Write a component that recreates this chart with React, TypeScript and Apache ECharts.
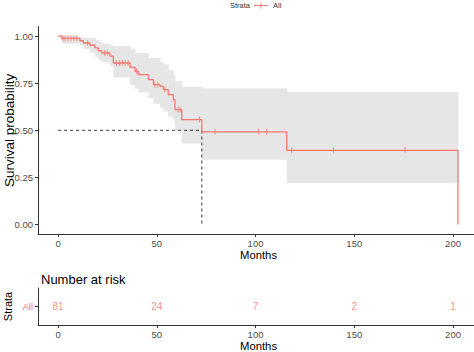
import React, { useEffect, useRef } from "react";
import * as echarts from "echarts";

// Kaplan–Meier step data (months, survival)
const stepTimes = [0, 1.9, 11.1, 12.8, 16.2, 18.7, 20.4, 22.1, 26.3, 28, 36.5, 39, 40.7, 45.7, 48.3, 51.6, 53.3, 55.8, 58.4, 59.2, 62.6, 72.8, 115.8, 202.5];
const survival = [1, 0.988, 0.975, 0.963, 0.951, 0.937, 0.922, 0.91, 0.893, 0.857, 0.834, 0.813, 0.795, 0.769, 0.742, 0.734, 0.716, 0.689, 0.663, 0.61, 0.557, 0.492, 0.394, 0];
const upperCI = [1, 1, 0.99, 0.99, 0.99, 0.98, 0.97, 0.96, 0.95, 0.946, 0.93, 0.91, 0.91, 0.884, 0.884, 0.86, 0.85, 0.82, 0.79, 0.76, 0.73, 0.723, 0.705];
const lowerCI = [1, 0.96, 0.95, 0.93, 0.91, 0.89, 0.87, 0.86, 0.84, 0.78, 0.74, 0.72, 0.7, 0.67, 0.64, 0.62, 0.6, 0.57, 0.55, 0.5, 0.43, 0.344, 0.22];
const censorTimes = [2.5, 3.5, 5, 6.5, 8, 9.5, 15, 23.5, 25, 29.5, 31, 32.5, 34, 35.5, 39.8, 49, 50.5, 54, 60.8, 61.8, 71.6, 79.5, 101.4, 105.6, 118.3, 139.4, 175.7];
const medianTime = 72.8;
const medianLevel = 0.5;

const xTicks = [0, 50, 100, 150, 200];
const yTicks = [0, 0.25, 0.5, 0.75, 1];
const strata = ["All"];
const riskTimes = [0, 50, 100, 150, 200];
const riskCounts = [81, 24, 7, 2, 1];

const RED = "#F8766D";
const BAND = "#e6e6e6";
const FONT = "Liberation Sans, Arial, sans-serif";
const AXIS = "#333333";
const LABEL = "#4d4d4d";

function stepValue(t: number): number {
  let v = survival[0];
  for (let i = 0; i < stepTimes.length; i++) {
    if (stepTimes[i] <= t) v = survival[i];
  }
  return v;
}

export default function App() {
  const ref = useRef<HTMLDivElement>(null);
  useEffect(() => {
    const chart = echarts.init(ref.current!, null, { renderer: "svg" });
    const bandData = upperCI.map((u, i) => [stepTimes[i], stepTimes[i + 1], lowerCI[i], u]);
    const xMin = -10.15;
    const xMax = 213.15;
    const commonX = (gridIndex: number) => ({
      type: "value",
      gridIndex,
      min: xMin,
      max: xMax,
      splitLine: { show: false },
      axisLine: { show: true, onZero: false, lineStyle: { color: AXIS, width: 1 } },
      axisTick: { show: true, length: 3, customValues: xTicks, lineStyle: { color: AXIS } },
      axisLabel: {
        customValues: xTicks,
        fontSize: 9.5,
        color: LABEL,
        margin: 4,
        fontFamily: FONT,
      },
      name: "Months",
      nameLocation: "middle",
      nameGap: 15,
      nameMoveOverlap: false,
      nameTextStyle: { fontSize: 11.3, color: "#000", fontFamily: FONT },
    });
    const option: any = {
      animation: false,
      textStyle: { fontFamily: FONT },
      title: {
        text: "Number at risk",
        left: 36,
        top: 268,
        textStyle: { fontSize: 13, fontWeight: "normal", color: "#000", fontFamily: FONT },
      },
      graphic: [
        { type: "text", x: 230, y: 5.5, style: { text: "Strata", fontSize: 7.5, fill: "#333", verticalAlign: "middle", fontFamily: FONT } },
        { type: "line", shape: { x1: 254, y1: 5.5, x2: 268, y2: 5.5 }, style: { stroke: RED, lineWidth: 1 } },
        { type: "line", shape: { x1: 261, y1: 2.5, x2: 261, y2: 8.5 }, style: { stroke: RED, lineWidth: 1 } },
        { type: "text", x: 273, y: 5.5, style: { text: "All", fontSize: 7.5, fill: "#333", verticalAlign: "middle", fontFamily: FONT } },
      ],
      grid: [
        { left: 38, top: 26.6, width: 441, height: 207.4, containLabel: false, outerBoundsMode: "none" },
        { left: 38, top: 288, width: 441, height: 37, containLabel: false, outerBoundsMode: "none" },
      ],
      xAxis: [commonX(0), commonX(1)],
      yAxis: [
        {
          type: "value",
          gridIndex: 0,
          min: -0.05,
          max: 1.05,
          splitLine: { show: false },
          axisLine: { show: true, onZero: false, lineStyle: { color: AXIS, width: 1 } },
          axisTick: { show: true, length: 3, customValues: yTicks, lineStyle: { color: AXIS } },
          axisLabel: {
            customValues: yTicks,
            formatter: (v: number) => v.toFixed(2),
            fontSize: 9.5,
            color: LABEL,
            margin: 5,
            fontFamily: FONT,
          },
          name: "Survival probability",
          nameLocation: "middle",
          nameGap: 29,
          nameMoveOverlap: false,
          nameTextStyle: { fontSize: 13.5, color: "#000", fontFamily: FONT, verticalAlign: "middle", lineHeight: 13 },
        },
        {
          type: "category",
          gridIndex: 1,
          data: strata,
          inverse: true,
          axisLine: { show: true, onZero: false, lineStyle: { color: AXIS, width: 1 } },
          axisTick: { show: true, length: 3, alignWithLabel: true, lineStyle: { color: AXIS } },
          axisLabel: { fontSize: 9.5, color: RED, margin: 5, fontFamily: FONT },
          name: "Strata",
          nameLocation: "middle",
          nameGap: 30,
          nameMoveOverlap: false,
          nameTextStyle: { fontSize: 11, color: "#000", fontFamily: FONT, verticalAlign: "middle", lineHeight: 11 },
        },
      ],
      series: [
        {
          type: "custom",
          xAxisIndex: 0,
          yAxisIndex: 0,
          data: bandData,
          encode: { x: [0, 1], y: [2, 3] },
          renderItem: (params: any, api: any) => {
            const p0 = api.coord([api.value(0), api.value(3)]);
            const p1 = api.coord([api.value(1), api.value(2)]);
            return {
              type: "rect",
              shape: { x: p0[0], y: p0[1], width: p1[0] - p0[0] + 0.6, height: p1[1] - p0[1] },
              style: { fill: BAND },
            };
          },
          silent: true,
        },
        {
          type: "line",
          xAxisIndex: 0,
          yAxisIndex: 0,
          data: [[0, medianLevel], [medianTime, medianLevel], [medianTime, 0]],
          symbol: "none",
          lineStyle: { color: "#222", width: 0.9, type: [3, 3] },
          silent: true,
        },
        {
          type: "line",
          xAxisIndex: 0,
          yAxisIndex: 0,
          step: "end",
          data: stepTimes.map((t, i) => [t, survival[i]]),
          symbol: "none",
          lineStyle: { color: RED, width: 1.3 },
          silent: true,
        },
        {
          type: "scatter",
          xAxisIndex: 0,
          yAxisIndex: 0,
          data: censorTimes.map((t) => [t, stepValue(t)]),
          symbol: "rect",
          symbolSize: [1, 6],
          itemStyle: { color: RED },
          silent: true,
        },
        {
          type: "scatter",
          xAxisIndex: 1,
          yAxisIndex: 1,
          data: riskTimes.map((t, i) => [t, 0, riskCounts[i]]),
          symbolSize: 0,
          itemStyle: { color: "rgba(0,0,0,0)" },
          label: {
            show: true,
            position: "inside",
            formatter: (p: any) => String(p.value[2]),
            color: RED,
            fontSize: 10,
            fontFamily: FONT,
          },
          silent: true,
        },
      ],
    };
    chart.setOption(option);
    return () => chart.dispose();
  }, []);
  return (
    <div
      ref={ref}
      style={{ width: 474, height: 352, position: "absolute", left: 0, top: 0, background: "#fff" }}
    />
  );
}
